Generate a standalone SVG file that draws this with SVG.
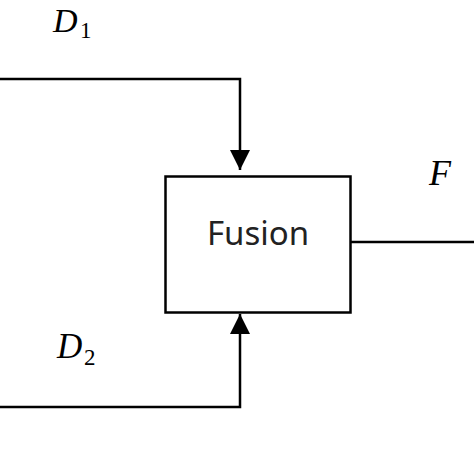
<svg xmlns="http://www.w3.org/2000/svg" width="474" height="474" viewBox="0 0 474 474">
<style>
.ln{fill:none;stroke:#000;stroke-width:2.5}
.m{font-family:"Liberation Serif",serif;font-style:italic;fill:#000}
.s{font-family:"Liberation Serif",serif;fill:#000}
</style>
<defs>
<marker id="ah" viewBox="0 0 10 10" refX="10" refY="5" markerWidth="20" markerHeight="20" markerUnits="userSpaceOnUse" orient="auto">
<path d="M0,0 L10,5 L0,10 Z" fill="#000"/>
</marker>
</defs>
<rect width="474" height="474" fill="#fff"/>
<g id="connectors">
<path class="ln" d="M0,79 H240 V170" marker-end="url(#ah)"/>
<path class="ln" d="M0,407 H240 V314" marker-end="url(#ah)"/>
<path class="ln" d="M351,242 H474"/>
</g>
<g id="fusion">
<rect x="165.5" y="176.5" width="185" height="136" fill="#fff" stroke="#000" stroke-width="2.5"/>
<text x="258" y="245" font-family="Noto Sans,sans-serif" font-size="33" text-anchor="middle" fill="#222">Fusion</text>
</g>
<g id="labels">
<text class="m" x="53" y="32" font-size="34">D</text><text class="s" x="80" y="38" font-size="23">1</text>
<text class="m" x="57" y="358" font-size="35">D</text><text class="s" x="84" y="365" font-size="23">2</text>
<text class="m" x="429" y="185" font-size="36">F</text>
</g>
</svg>
